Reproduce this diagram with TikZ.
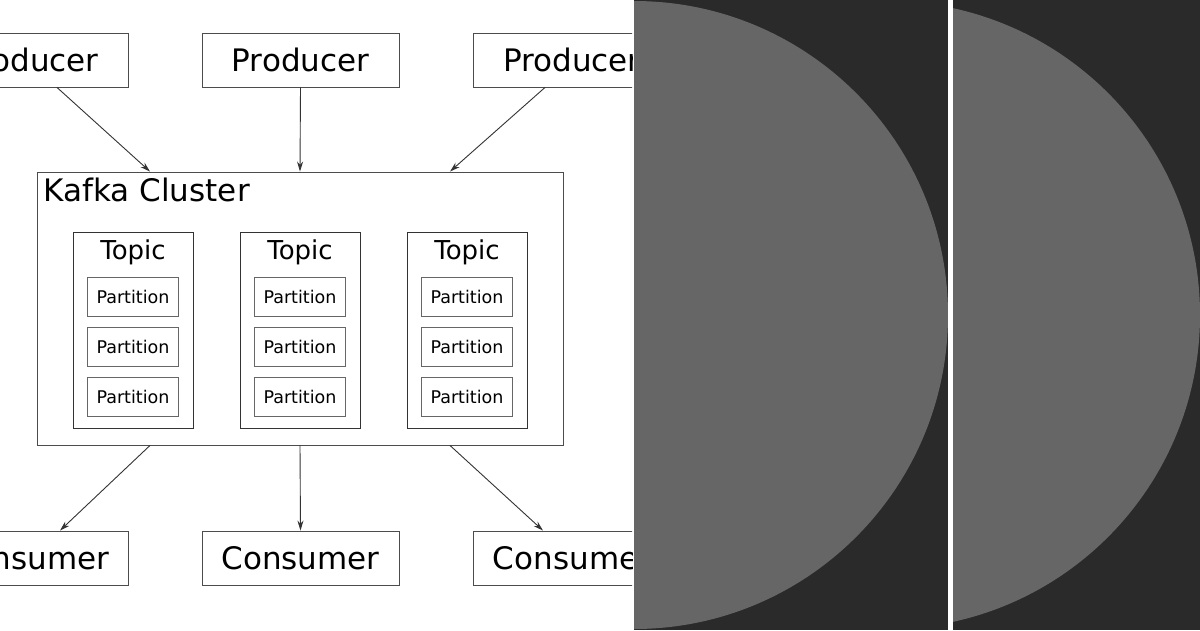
\documentclass[tikz,border=0pt]{standalone}
\usepackage{fontspec}
\setmainfont{DejaVu Sans}
\usetikzlibrary{positioning}
\usetikzlibrary{arrows.meta}
\usetikzlibrary{calc}
\definecolor{panel}{HTML}{2A2A2A}
\definecolor{disc}{HTML}{666666}
\begin{document}
\begin{tikzpicture}[
  x=1pt, y=-1pt,
  line width=0.9pt,
  role/.style={draw=black!70, minimum width=197pt, minimum height=54pt, inner sep=0pt, font=\fontsize{31}{32}\selectfont},
  topic/.style={draw=black!80, minimum width=120pt, minimum height=196pt, inner sep=0pt},
  part/.style={draw=black!60, minimum width=91pt, minimum height=39pt, inner sep=0pt, font=\fontsize{17.5}{18}\selectfont},
  arrow/.style={-{Stealth[length=10pt,width=6pt]}, draw=black!80}
]
\useasboundingbox (0,0) rectangle (1200,630);
\fill[white] (0,0) rectangle (634,630);

% Diagram panel
\begin{scope}
\clip (0,0) rectangle (632,630);
\node[role] (p1) at (30,60) {Producer};
\node[role] (p2) at (300.5,60) {Producer};
\node[role] (p3) at (572,60) {Producer};
\node[role] (c1) at (30,558) {Consumer};
\node[role] (c2) at (300.5,558) {Consumer};
\node[role] (c3) at (572,558) {Consumer};

\node[draw=black!70, minimum width=526pt, minimum height=273pt, inner sep=0pt] (kc) at (300,308.5) {};
\node[anchor=west, font=\fontsize{31}{32}\selectfont] (kl) at (40,190) {Kafka Cluster};

% Topics with partitions
\foreach \i/\x in {1/133,2/300,3/467} {
  \node[topic] (t\i) at (\x,330) {};
  \node[font=\fontsize{26}{27}\selectfont] (tl\i) at (\x,252) {Topic};
  \foreach \j/\y in {1/296.5,2/346.5,3/396.5}
    \node[part] (pt\i\j) at (\x,\y) {Partition};
}

% Producers to cluster
\draw[arrow] ($(p1.south)+(27,0)$) -- ($(kc.north)+(-150,0)$);
\draw[arrow] (p2.south) -- (kc.north);
\draw[arrow] ($(p3.south)+(-27,0)$) -- ($(kc.north)+(150,0)$);
% Cluster to consumers
\draw[arrow] ($(kc.south)+(-150,0)$) -- ($(c1.north)+(30,0)$);
\draw[arrow] (kc.south) -- (c2.north);
\draw[arrow] ($(kc.south)+(150,0)$) -- ($(c3.north)+(-29,0)$);
\end{scope}

% Right panels
\begin{scope}
\clip (634,0) rectangle (948,630);
\fill[panel] (634,0) rectangle (948,630);
\fill[disc] (634,315) circle[radius=314];
\end{scope}
\fill[white] (948,0) rectangle (953,630);
\begin{scope}
\clip (953,0) rectangle (1200,630);
\fill[panel] (953,0) rectangle (1200,630);
\fill[disc] (886,315) circle[radius=314];
\end{scope}
\end{tikzpicture}
\end{document}
